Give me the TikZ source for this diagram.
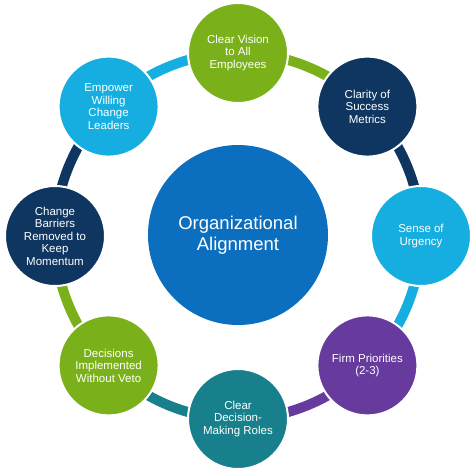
\documentclass[tikz,border=0pt]{standalone}
\usepackage{fontspec}
\setmainfont{Liberation Sans}
\usetikzlibrary{calc}
\definecolor{cgreen}{HTML}{7AB019}
\definecolor{cnavy}{HTML}{0E3660}
\definecolor{clight}{HTML}{16AEE0}
\definecolor{cpurple}{HTML}{673A9E}
\definecolor{cteal}{HTML}{17808C}
\definecolor{cblue}{HTML}{0B6EBE}
\tikzset{
  outer/.style={circle, minimum size=100pt, inner sep=0pt, draw=white, line width=2pt,
    text=white, align=center, font=\fontsize{11.5}{12.5}\selectfont},
  hub/.style={circle, minimum size=180pt, inner sep=0pt, fill=cblue,
    text=white, align=center, font=\fontsize{18.5}{21}\selectfont},
  ringarc/.style={line width=10pt}
}
\begin{document}
\begin{tikzpicture}[x=1pt,y=1pt]
\useasboundingbox (0,0) rectangle (474,-471);
\coordinate (c) at (238,-236);
\coordinate (p1) at ($(c)+(90:183)$);
\coordinate (p2) at ($(c)+(45:183)$);
\coordinate (p3) at ($(c)+(0:183)$);
\coordinate (p4) at ($(c)+(-45:183)$);
\coordinate (p5) at ($(c)+(-90:183)$);
\coordinate (p6) at ($(c)+(-135:183)$);
\coordinate (p7) at ($(c)+(180:183)$);
\coordinate (p8) at ($(c)+(135:183)$);
% ring arcs
\draw[ringarc, cgreen] (p1) arc[start angle=90, end angle=45, radius=183];
\draw[ringarc, cnavy] (p2) arc[start angle=45, end angle=0, radius=183];
\draw[ringarc, clight] (p3) arc[start angle=0, end angle=-45, radius=183];
\draw[ringarc, cpurple] (p4) arc[start angle=-45, end angle=-90, radius=183];
\draw[ringarc, cteal] (p5) arc[start angle=-90, end angle=-135, radius=183];
\draw[ringarc, cgreen] (p6) arc[start angle=-135, end angle=-180, radius=183];
\draw[ringarc, cnavy] (p7) arc[start angle=180, end angle=135, radius=183];
\draw[ringarc, clight] (p8) arc[start angle=135, end angle=90, radius=183];
% hub
\node[hub] (hub) at (238,-235) {Organizational\\Alignment};
% outer circles
\node[outer, fill=cgreen] (n1) at (p1) {Clear Vision\\to All\\Employees};
\node[outer, fill=cnavy] (n2) at (p2) {Clarity of\\Success\\Metrics};
\node[outer, fill=clight] (n3) at (p3) {Sense of\\Urgency};
\node[outer, fill=cpurple] (n4) at (p4) {Firm Priorities\\(2-3)};
\node[outer, fill=cteal] (n5) at (p5) {Clear\\Decision-\\Making Roles};
\node[outer, fill=cgreen] (n6) at (p6) {Decisions\\Implemented\\Without Veto};
\node[outer, fill=cnavy] (n7) at (p7) {Change\\Barriers\\Removed to\\Keep\\Momentum};
\node[outer, fill=clight] (n8) at (p8) {Empower\\Willing\\Change\\Leaders};
\end{tikzpicture}
\end{document}
